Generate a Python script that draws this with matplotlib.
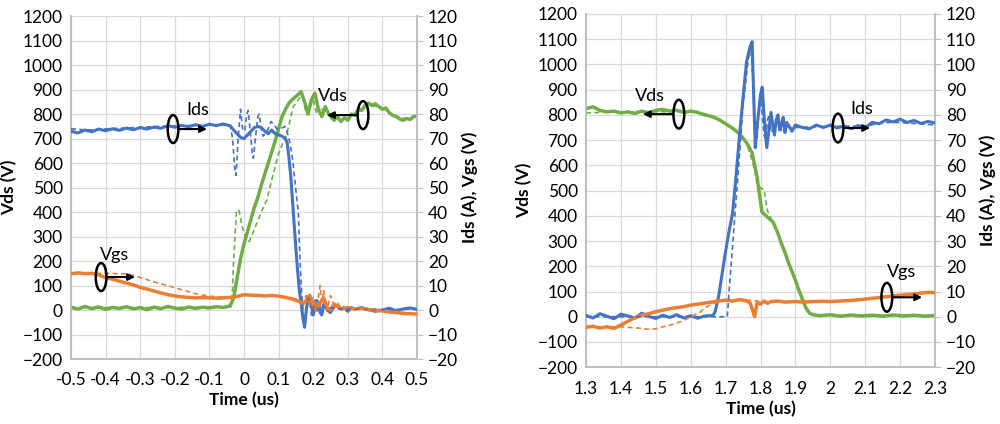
import matplotlib.pyplot as plt
from matplotlib.patches import Ellipse

plt.rcParams['font.family'] = ['Lato', 'DejaVu Sans']

BLUE = '#4472C4'
ORANGE = '#ED7D31'
GREEN = '#70AD47'

# %%
# Left panel (turn-off), measured = solid, simulated = dashed
L_vds_t = [-0.50, -0.48, -0.46, -0.44, -0.42, -0.40, -0.38, -0.36, -0.34, -0.32, -0.30, -0.28,
           -0.26, -0.24, -0.22, -0.20, -0.18, -0.16, -0.14, -0.12, -0.10, -0.08, -0.06, -0.04,
           -0.03, -0.02, -0.01, 0.00, 0.01, 0.02, 0.03, 0.04, 0.05, 0.06, 0.07, 0.08, 0.09, 0.10,
           0.11, 0.12, 0.13, 0.14, 0.15, 0.16, 0.165, 0.175, 0.185, 0.195, 0.205, 0.215, 0.225,
           0.235, 0.245, 0.26, 0.27, 0.28, 0.29, 0.30, 0.31, 0.32, 0.33, 0.34, 0.35, 0.36, 0.37,
           0.38, 0.39, 0.40, 0.41, 0.42, 0.43, 0.44, 0.45, 0.46, 0.47, 0.48, 0.49, 0.50]
L_vds = [12, 4, 15, 6, 13, 3, 11, 7, 14, 5, 10, 2,
         12, 6, 15, 8, 4, 13, 7, 12, 9, 14, 11, 17,
         50, 130, 210, 270, 320, 370, 420, 460, 510, 555, 600, 645, 690, 740,
         790, 820, 845, 860, 872, 885, 892, 850, 800, 860, 885, 820, 790,
         830, 800, 775, 790, 770, 785, 775, 800, 795, 820, 815, 835, 845, 835,
         842, 830, 820, 825, 805, 795, 790, 780, 775, 782, 778, 790, 792]

L_vds_sim_t = [-0.50, -0.04, -0.035, -0.03, -0.022, -0.015, -0.005, 0.005, 0.015, 0.03, 0.05,
               0.066, 0.08, 0.10, 0.124, 0.142, 0.16, 0.17, 0.18, 0.19, 0.20, 0.21, 0.22, 0.23,
               0.25, 0.28, 0.30, 0.33, 0.36, 0.40, 0.44, 0.47, 0.50]
L_vds_sim = [10, 12, 30, 200, 400, 410, 340, 290, 280, 330, 400,
             450, 530, 640, 720, 829, 865, 870, 800, 830, 860, 800, 830, 810,
             790, 780, 785, 815, 840, 825, 790, 780, 790]

L_ids_t = [-0.50, -0.48, -0.46, -0.44, -0.42, -0.40, -0.38, -0.36, -0.34, -0.32, -0.30, -0.28,
           -0.26, -0.24, -0.22, -0.20, -0.18, -0.16, -0.14, -0.12, -0.10, -0.08, -0.06, -0.04,
           -0.03, -0.02, -0.01, 0.00, 0.01, 0.02, 0.03, 0.04, 0.05, 0.06, 0.07, 0.08, 0.09, 0.10,
           0.11, 0.12, 0.125, 0.13, 0.135, 0.14, 0.145, 0.15, 0.155, 0.16, 0.165, 0.17, 0.175,
           0.18, 0.185, 0.19, 0.195, 0.20, 0.205, 0.21, 0.215, 0.22, 0.225, 0.23, 0.235, 0.24,
           0.25, 0.26, 0.27, 0.28, 0.29, 0.30, 0.31, 0.32, 0.34, 0.36, 0.38, 0.40, 0.42, 0.44,
           0.46, 0.48, 0.50]
L_ids = [73.0, 72.3, 73.5, 72.8, 73.9, 73.2, 74.0, 73.4, 74.3, 73.6, 74.5, 73.9,
         74.7, 74.2, 75.3, 74.6, 75.4, 74.8, 75.7, 75.0, 75.9, 75.3, 76.0, 75.2,
         73.5, 72.0, 70.5, 70.0, 71.5, 73.0, 74.5, 75.0, 74.5, 73.0, 72.0, 73.5, 72.0, 71.5,
         71.0, 70.0, 68.0, 62.0, 55.0, 45.0, 35.0, 25.0, 16.0, 8.0, 3.0, -3.0, -7.0,
         0.0, 5.0, 6.0, 2.0, -2.0, 1.0, 4.0, 3.0, -1.0, -2.0, 2.0, 3.0, 0.0,
         -1.0, 1.5, 2.0, 0.5, 1.0, -0.5, 1.0, 0.5, 1.0, 0.2, -0.5, 0.0, 0.8, -0.3,
         0.5, 0.9, 0.3]

L_ids_sim_t = [-0.50, -0.45, -0.40, -0.35, -0.30, -0.25, -0.20, -0.15, -0.10, -0.05, -0.04,
               -0.033, -0.027, -0.023, -0.017, -0.010, -0.004, 0.002, 0.008, 0.012, 0.018, 0.024,
               0.027, 0.033, 0.040, 0.044, 0.050, 0.055, 0.062, 0.070, 0.078, 0.085, 0.095, 0.105,
               0.118, 0.126, 0.133, 0.14, 0.147, 0.153, 0.157, 0.162, 0.167, 0.172, 0.176, 0.181,
               0.186, 0.19, 0.195, 0.20, 0.205, 0.21, 0.215, 0.22, 0.23, 0.24, 0.25, 0.27, 0.30,
               0.35, 0.40, 0.45, 0.50]
L_ids_sim = [74.0, 73.5, 74.0, 74.3, 74.6, 75.0, 75.2, 75.4, 75.5, 75.6, 75.5,
             70, 58, 55, 70, 82, 74, 73, 80, 81.5, 73, 64,
             62, 70, 79, 80, 74, 71, 72, 74, 77, 76, 74, 74,
             75, 72, 68, 62, 53, 45, 40, 20, 6, -2, -7, 0,
             5, 3, -2, 0, 4, 2, -1, 1, 2, 0, 1, 0.5, 0.5,
             0.3, 0.2, 0.3, 0.5]

L_vgs_t = [-0.50, -0.48, -0.46, -0.44, -0.42, -0.40, -0.38, -0.36, -0.34, -0.32, -0.30, -0.28,
           -0.26, -0.24, -0.22, -0.20, -0.18, -0.16, -0.14, -0.12, -0.10, -0.08, -0.06, -0.04,
           -0.02, 0.00, 0.02, 0.04, 0.06, 0.08, 0.10, 0.12, 0.14, 0.16, 0.17, 0.18, 0.19, 0.20,
           0.21, 0.22, 0.23, 0.24, 0.25, 0.26, 0.27, 0.28, 0.30, 0.32, 0.34, 0.36, 0.38, 0.40,
           0.42, 0.44, 0.46, 0.48, 0.50]
L_vgs = [14.8, 15.2, 14.9, 15.0, 14.4, 13.3, 12.6, 11.8, 11.0, 10.3, 9.3, 8.6,
         7.8, 7.0, 6.3, 5.8, 5.4, 5.2, 5.0, 5.1, 5.0, 4.9, 5.0, 5.2,
         5.6, 6.3, 6.1, 6.0, 5.8, 6.0, 5.7, 5.2, 4.5, 3.5, 2.5, 4.0, 6.0, 2.0,
         0.0, 3.0, 5.0, 1.0, 0.0, 2.5, 1.5, 0.5, 1.0, 0.5, 0.8, 0.2, 0.0, -0.3,
         -0.8, -1.0, -1.4, -1.5, -1.6]

L_vgs_sim_t = [-0.50, -0.40, -0.35, -0.33, -0.30, -0.26, -0.22, -0.18, -0.14, -0.10, -0.06,
               -0.03, 0.00, 0.10, 0.15, 0.17, 0.18, 0.19, 0.20, 0.21, 0.22, 0.225, 0.23, 0.24,
               0.25, 0.26, 0.27, 0.28, 0.30, 0.35, 0.40, 0.45, 0.50]
L_vgs_sim = [15.0, 15.0, 14.8, 14.5, 13.3, 11.5, 10.0, 8.3, 6.7, 5.7, 5.2,
             5.0, 6.0, 5.8, 4.5, 3.0, 6.0, 2.0, 5.0, 1.0, 10.0, 3.0, 8.0, 0.0,
             6.0, 2.0, 3.0, 1.0, 1.0, 0.5, 0.0, -0.8, -1.5]

# %%
# Right panel (turn-on)
R_vds_t = [1.30, 1.32, 1.34, 1.36, 1.38, 1.40, 1.42, 1.44, 1.46, 1.48, 1.50, 1.52, 1.54, 1.56,
           1.58, 1.60, 1.62, 1.64, 1.66, 1.68, 1.70, 1.72, 1.74, 1.76, 1.776, 1.79, 1.804, 1.82,
           1.836, 1.85, 1.86, 1.87, 1.88, 1.89, 1.90, 1.91, 1.92, 1.93, 1.94, 1.95, 1.97, 2.00,
           2.03, 2.06, 2.09, 2.12, 2.15, 2.18, 2.21, 2.24, 2.27, 2.30]
R_vds = [825, 832, 818, 812, 815, 808, 812, 806, 815, 808, 818, 822, 815, 818,
         810, 815, 810, 800, 794, 782, 765, 747, 725, 690, 650, 555, 415, 395,
         375, 330, 290, 255, 215, 180, 145, 105, 70, 35, 15, 8, 4, 8,
         2, 7, 3, 6, 2, 7, 3, 6, 2, 5]

R_vds_sim_t = [1.30, 1.40, 1.50, 1.60, 1.64, 1.68, 1.72, 1.76, 1.78, 1.79, 1.80, 1.81, 1.82,
               1.83, 1.84, 1.86, 1.88, 1.90, 1.92, 1.94, 1.96, 2.10, 2.30]
R_vds_sim = [808, 812, 813, 812, 805, 785, 748, 690, 600, 530, 510, 505, 420,
             390, 365, 295, 215, 145, 65, 15, 5, 5, 5]

R_ids_t = [1.30, 1.32, 1.34, 1.36, 1.38, 1.40, 1.42, 1.44, 1.46, 1.48, 1.50, 1.52, 1.54, 1.56,
           1.58, 1.60, 1.62, 1.64, 1.664, 1.67, 1.68, 1.69, 1.70, 1.71, 1.72, 1.73, 1.74, 1.75,
           1.76, 1.77, 1.776, 1.78, 1.785, 1.79, 1.80, 1.805, 1.81, 1.818, 1.825, 1.83, 1.835,
           1.84, 1.845, 1.85, 1.855, 1.86, 1.865, 1.87, 1.875, 1.88, 1.89, 1.90, 1.92, 1.94,
           1.96, 1.98, 2.00, 2.02, 2.04, 2.06, 2.08, 2.10, 2.12, 2.14, 2.16, 2.18, 2.20, 2.22,
           2.24, 2.26, 2.28, 2.30]
R_ids = [0.5, -0.5, 1.2, 0.2, -0.8, 1.0, 0.3, -0.6, 1.4, 0.1, -0.7, 0.6, -0.3, 0.8,
         -0.5, 0.4, -0.6, 0.3, 0.5, 2.0, 8.0, 17.0, 26.0, 34.0, 41.0, 56.0, 72.0, 87.0,
         101.0, 107.0, 109.0, 90.0, 67.0, 75.0, 88.0, 91.0, 80.0, 67.0, 75.0, 81.0, 76.0,
         72.0, 78.0, 80.0, 74.0, 76.0, 79.0, 73.0, 77.0, 76.0, 73.5, 76.0, 75.0, 74.5,
         76.0, 75.0, 76.0, 74.8, 75.6, 74.5, 75.8, 75.0, 77.0, 76.5, 78.0, 77.2, 78.3, 77.0,
         77.8, 76.6, 77.4, 76.8]

R_ids_sim_t = [1.30, 1.40, 1.50, 1.60, 1.70, 1.705, 1.71, 1.72, 1.727, 1.735, 1.75, 1.765,
               1.772, 1.778, 1.783, 1.79, 1.795, 1.80, 1.805, 1.81, 1.815, 1.82, 1.825, 1.83,
               1.84, 1.85, 1.86, 1.87, 1.88, 1.90, 2.00, 2.10, 2.15, 2.20, 2.30]
R_ids_sim = [0.0, 0.0, 0.0, 0.0, 0.0, 0.0, 10.0, 28.0, 41.0, 55.0, 84.0, 102.0,
             107.0, 95.0, 75.0, 70.0, 82.0, 88.0, 80.0, 72.0, 70.0, 78.0, 80.0, 73.0,
             75.0, 79.0, 74.0, 77.0, 75.0, 75.0, 75.5, 75.5, 77.0, 77.0, 76.0]

R_vgs_t = [1.30, 1.32, 1.34, 1.36, 1.38, 1.40, 1.42, 1.44, 1.46, 1.48, 1.50, 1.52, 1.54, 1.56,
           1.58, 1.60, 1.62, 1.64, 1.66, 1.68, 1.70, 1.72, 1.74, 1.76, 1.77, 1.78, 1.783, 1.787,
           1.79, 1.80, 1.81, 1.82, 1.83, 1.85, 1.87, 1.90, 1.92, 1.95, 1.98, 2.00, 2.04, 2.08,
           2.10, 2.14, 2.18, 2.20, 2.24, 2.28, 2.30]
R_vgs = [-4.2, -3.8, -4.5, -4.0, -4.6, -3.3, -1.8, -0.4, 0.6, 1.2, 2.0, 2.6, 3.2, 3.6,
         4.0, 4.6, 5.0, 5.4, 5.8, 6.2, 6.6, 6.2, 6.8, 6.3, 5.5, 1.5, 0.0, 3.0,
         5.5, 5.0, 6.2, 5.3, 6.0, 6.2, 5.8, 6.0, 5.8, 6.0, 6.1, 6.0, 6.3, 6.7,
         7.0, 7.6, 8.2, 8.5, 9.0, 9.7, 9.5]

R_vgs_sim_t = [1.30, 1.40, 1.45, 1.48, 1.50, 1.52, 1.55, 1.58, 1.60, 1.627, 1.64, 1.66, 1.68,
               1.70, 1.78, 1.80, 1.90, 2.00, 2.10, 2.20, 2.30]
R_vgs_sim = [-4.0, -4.0, -4.5, -5.0, -4.8, -4.0, -3.0, -1.5, 0.0, 1.8, 3.5, 5.0, 5.8,
             6.3, 6.5, 6.0, 6.0, 6.1, 7.0, 8.5, 9.7]

# annotation marks: (ellipse t, ellipse level on right axis, arrow end t, text t, text level, label)
L_notes = [(-0.205, 73.9, -0.107, -0.133, 81.6, 'Ids'),
           (0.344, 79.6, 0.240, 0.257, 87.5, 'Vds'),
           (-0.413, 13.5, -0.315, -0.373, 22.5, 'Vgs')]
R_notes = [(1.566, 80.3, 1.463, 1.483, 87.5, 'Vds'),
           (2.022, 74.8, 2.114, 2.090, 82.3, 'Ids'),
           (2.162, 7.7, 2.263, 2.205, 17.6, 'Vgs')]


def draw_panel(ax, xlim, xticks, xlabels, series, notes, xpad):
    ax2 = ax.twinx()
    (vt, v, vst, vs, it, i, ist, is_, gt, g, gst, gs) = series

    ax.plot(vt, v, color=GREEN, lw=2.5, zorder=3)
    ax.plot(vst, vs, color=GREEN, lw=1.2, ls=(0, (3, 2)), zorder=4)
    ax2.plot(it, i, color=BLUE, lw=2.2, zorder=3)
    ax2.plot(ist, is_, color=BLUE, lw=1.2, ls=(0, (3, 2)), zorder=4)
    ax2.plot(gt, g, color=ORANGE, lw=2.5, zorder=3)
    ax2.plot(gst, gs, color=ORANGE, lw=1.2, ls=(0, (3, 2)), zorder=4)

    ax.set_xlim(*xlim)
    ax.set_ylim(-200, 1200)
    ax2.set_ylim(-20, 120)
    ax.set_xticks(xticks)
    ax.set_xticklabels(xlabels)
    ax.set_yticks(range(-200, 1201, 100))
    ax2.set_yticks(range(-20, 121, 10))
    ax.grid(True, color='#D9D9D9', lw=0.9)
    ax.set_axisbelow(True)

    for a in (ax, ax2):
        a.spines['top'].set_visible(False)
        for s in ('left', 'right', 'bottom'):
            a.spines[s].set_color('#BFBFBF')
            a.spines[s].set_linewidth(1.2)
    ax.tick_params(axis='y', labelsize=12.5, length=0, pad=6)
    ax.tick_params(axis='x', labelsize=12.5, length=0, pad=xpad)
    ax2.tick_params(axis='y', labelsize=12.5, length=4, color='#BFBFBF', pad=4)

    ax.set_xlabel('Time (us)', fontsize=12.5, fontweight='bold', labelpad=3)
    ax.set_ylabel('Vds (V)', fontsize=12.5, fontweight='bold', labelpad=4)
    ax2.set_ylabel('Ids (A), Vgs (V)', fontsize=12.5, fontweight='bold', labelpad=2)

    span_t = xlim[1] - xlim[0]
    for (et, ey, at, tt, ty, lab) in notes:
        ax2.add_patch(Ellipse((et, ey), span_t * 0.031, 11.4, fill=False,
                              ec='black', lw=1.8, zorder=6))
        start = et + (span_t * 0.016 if at > et else -span_t * 0.016)
        ax2.annotate('', xy=(at, ey), xytext=(start, ey),
                     arrowprops=dict(arrowstyle='-|>', color='black', lw=1.5,
                                     mutation_scale=10, shrinkA=0, shrinkB=0), zorder=6)
        ax2.text(tt, ty, lab, fontsize=13, ha='center', va='center', zorder=6)
    return ax2


fig = plt.figure(figsize=(10, 4.24), dpi=100)
axL = fig.add_axes([0.071, 0.153, 0.346, 0.809])
axR = fig.add_axes([0.586, 0.134, 0.349, 0.833])

l_ticks = [-0.5, -0.4, -0.3, -0.2, -0.1, 0, 0.1, 0.2, 0.3, 0.4, 0.5]
l_labels = ['-0.5', '-0.4', '-0.3', '-0.2', '-0.1', '0', '0.1', '0.2', '0.3', '0.4', '0.5']
r_ticks = [1.3, 1.4, 1.5, 1.6, 1.7, 1.8, 1.9, 2.0, 2.1, 2.2, 2.3]
r_labels = ['1.3', '1.4', '1.5', '1.6', '1.7', '1.8', '1.9', '2', '2.1', '2.2', '2.3']

draw_panel(axL, (-0.5, 0.5), l_ticks, l_labels,
           (L_vds_t, L_vds, L_vds_sim_t, L_vds_sim, L_ids_t, L_ids, L_ids_sim_t, L_ids_sim,
            L_vgs_t, L_vgs, L_vgs_sim_t, L_vgs_sim), L_notes, 9)
draw_panel(axR, (1.3, 2.3), r_ticks, r_labels,
           (R_vds_t, R_vds, R_vds_sim_t, R_vds_sim, R_ids_t, R_ids, R_ids_sim_t, R_ids_sim,
            R_vgs_t, R_vgs, R_vgs_sim_t, R_vgs_sim), R_notes, 10)

fig.savefig('out.png', dpi=100)
